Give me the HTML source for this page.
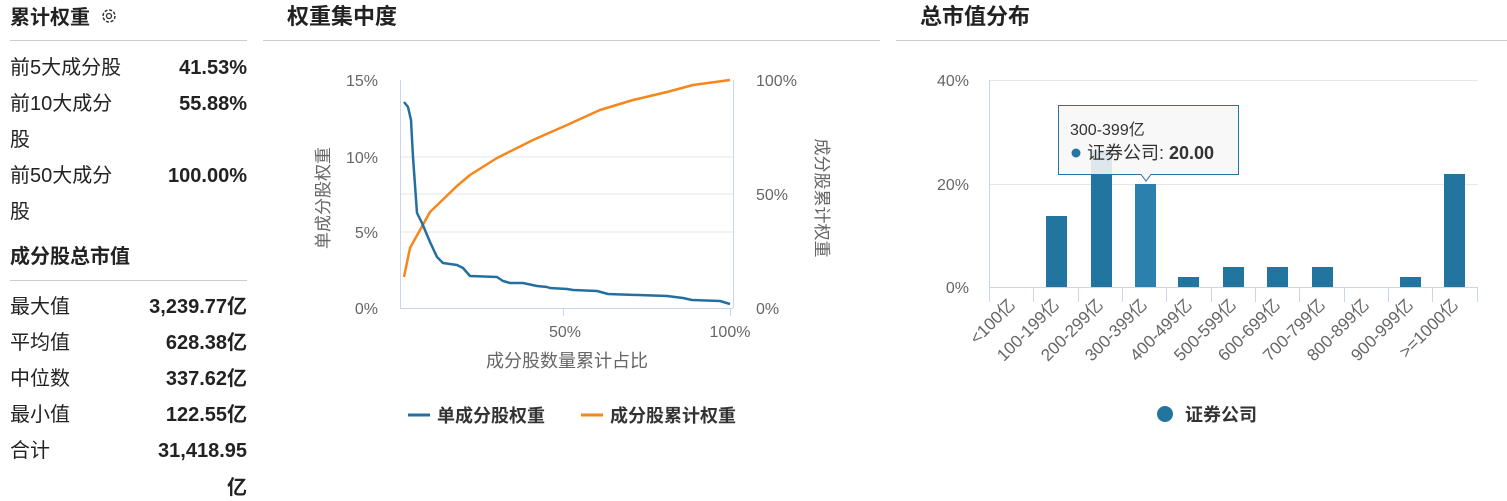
<!DOCTYPE html>
<html><head><meta charset="utf-8"><style>
body{margin:0;background:#fff;width:1507px;height:501px;overflow:hidden}
svg{display:block;font-family:"Liberation Sans","Noto Sans CJK SC",sans-serif}
</style></head><body>
<svg width="1507" height="501" xmlns="http://www.w3.org/2000/svg">
<!-- Left panel -->
<g fill="#222" font-size="20">
<text x="10" y="24" font-size="20" font-weight="bold">累计权重</text>
<circle cx="109" cy="16" r="6" fill="none" stroke="#333" stroke-width="1.5" stroke-dasharray="3 1.7"/><circle cx="109" cy="16" r="2.5" fill="none" stroke="#333" stroke-width="1.3"/>
<line x1="10" y1="40.5" x2="247" y2="40.5" stroke="#ccc"/>
<text x="10" y="74">前5大成分股</text><text x="247" y="74" text-anchor="end" font-weight="bold">41.53%</text>
<text x="10" y="110">前10大成分</text><text x="247" y="110" text-anchor="end" font-weight="bold">55.88%</text>
<text x="10" y="146">股</text>
<text x="10" y="182">前50大成分</text><text x="247" y="182" text-anchor="end" font-weight="bold">100.00%</text>
<text x="10" y="218">股</text>
<text x="10" y="263" font-weight="bold">成分股总市值</text>
<line x1="10" y1="280.5" x2="247" y2="280.5" stroke="#ccc"/>
<text x="10" y="313">最大值</text><text x="247" y="313" text-anchor="end" font-weight="bold">3,239.77亿</text>
<text x="10" y="349">平均值</text><text x="247" y="349" text-anchor="end" font-weight="bold">628.38亿</text>
<text x="10" y="385">中位数</text><text x="247" y="385" text-anchor="end" font-weight="bold">337.62亿</text>
<text x="10" y="421">最小值</text><text x="247" y="421" text-anchor="end" font-weight="bold">122.55亿</text>
<text x="10" y="457">合计</text><text x="247" y="457" text-anchor="end" font-weight="bold">31,418.95</text>
<text x="247" y="494" text-anchor="end" font-weight="bold">亿</text>
</g>
<!-- Middle panel -->
<text x="287" y="24" font-size="22" font-weight="bold" fill="#222">权重集中度</text>
<line x1="263" y1="40.5" x2="880" y2="40.5" stroke="#ccc"/>
<g stroke="#e6e6e6"><line x1="400" y1="157" x2="733" y2="157"/><line x1="400" y1="194" x2="733" y2="194"/><line x1="400" y1="232" x2="733" y2="232"/></g>
<g stroke="#ccd6eb"><line x1="400.5" y1="80" x2="400.5" y2="308"/><line x1="733.5" y1="80" x2="733.5" y2="308"/><line x1="400" y1="308.5" x2="733" y2="308.5"/><line x1="563.5" y1="308" x2="563.5" y2="316"/><line x1="730.5" y1="308" x2="730.5" y2="316"/></g>
<g fill="#666" font-size="16">
<text x="378" y="86" text-anchor="end">15%</text><text x="378" y="163" text-anchor="end">10%</text><text x="378" y="238" text-anchor="end">5%</text><text x="378" y="314" text-anchor="end">0%</text>
<text x="756" y="86">100%</text><text x="756" y="200">50%</text><text x="756" y="314">0%</text>
<text x="565" y="337" text-anchor="middle">50%</text><text x="730" y="337" text-anchor="middle">100%</text>
<text x="567" y="367" text-anchor="middle" font-size="18">成分股数量累计占比</text>
<text transform="translate(329,198) rotate(-90)" text-anchor="middle" font-size="17">单成分股权重</text>
<text transform="translate(816,198) rotate(90)" text-anchor="middle" font-size="17">成分股累计权重</text>
</g>
<polyline fill="none" stroke="#f7861c" stroke-width="2.5" stroke-linejoin="round" points="404,277 410,248 430,212 457,186 470,175 497,158 533,140 567,125 600,110 633,100 667,92 693,85 730,80"/>
<polyline fill="none" stroke="#2370a0" stroke-width="2.5" stroke-linejoin="round" points="404,102 408,107 411,120 413,157 417,213 422,223 430,242 437,257 443,263 457,265 463,268 470,276 497,277 503,281 510,283 523,283 537,286 547,287 550,288 567,289 573,290 597,291 608,294 667,296 683,298 692,300 720,301 730,304"/>
<g font-size="18" font-weight="bold" fill="#333">
<line x1="408" y1="415" x2="430" y2="415" stroke="#2370a0" stroke-width="3"/><text x="437" y="422">单成分股权重</text>
<line x1="581" y1="415" x2="603" y2="415" stroke="#f7861c" stroke-width="3"/><text x="610" y="422">成分股累计权重</text>
</g>
<!-- Right panel -->
<text x="920" y="24" font-size="22" font-weight="bold" fill="#222">总市值分布</text>
<line x1="896" y1="40.5" x2="1507" y2="40.5" stroke="#ccc"/>
<g stroke="#e6e6e6"><line x1="989" y1="80.5" x2="1478" y2="80.5"/><line x1="989" y1="184.5" x2="1478" y2="184.5"/></g>
<g stroke="#ccd6eb"><line x1="989.5" y1="80" x2="989.5" y2="302"/><line x1="989" y1="287.5" x2="1478" y2="287.5"/>
<line x1="1033.5" y1="287" x2="1033.5" y2="302"/><line x1="1078.5" y1="287" x2="1078.5" y2="302"/><line x1="1122.5" y1="287" x2="1122.5" y2="302"/><line x1="1166.5" y1="287" x2="1166.5" y2="302"/><line x1="1211.5" y1="287" x2="1211.5" y2="302"/><line x1="1255.5" y1="287" x2="1255.5" y2="302"/><line x1="1299.5" y1="287" x2="1299.5" y2="302"/><line x1="1344.5" y1="287" x2="1344.5" y2="302"/><line x1="1388.5" y1="287" x2="1388.5" y2="302"/><line x1="1432.5" y1="287" x2="1432.5" y2="302"/><line x1="1477.5" y1="287" x2="1477.5" y2="302"/></g>
<g fill="#666" font-size="16"><text x="969" y="86" text-anchor="end">40%</text><text x="969" y="190" text-anchor="end">20%</text><text x="969" y="293" text-anchor="end">0%</text></g>
<g fill="#22759f">
<rect x="1046" y="216" width="21" height="71"/><rect x="1091" y="150" width="21" height="137"/><rect x="1135" y="184" width="21" height="103" fill="#2c80ad"/>
<rect x="1178" y="277" width="21" height="10"/><rect x="1223" y="267" width="21" height="20"/><rect x="1267" y="267" width="21" height="20"/><rect x="1312" y="267" width="21" height="20"/>
<rect x="1400" y="277" width="21" height="10"/><rect x="1444" y="174" width="21" height="113"/>
</g>
<g fill="#666" font-size="17" text-anchor="end">
<text transform="translate(1016,306) rotate(-45)">&lt;100亿</text>
<text transform="translate(1060,306) rotate(-45)">100-199亿</text>
<text transform="translate(1104,306) rotate(-45)">200-299亿</text>
<text transform="translate(1148,306) rotate(-45)">300-399亿</text>
<text transform="translate(1193,306) rotate(-45)">400-499亿</text>
<text transform="translate(1237,306) rotate(-45)">500-599亿</text>
<text transform="translate(1281,306) rotate(-45)">600-699亿</text>
<text transform="translate(1326,306) rotate(-45)">700-799亿</text>
<text transform="translate(1370,306) rotate(-45)">800-899亿</text>
<text transform="translate(1414,306) rotate(-45)">900-999亿</text>
<text transform="translate(1459,306) rotate(-45)">&gt;=1000亿</text>
</g>
<!-- tooltip -->
<path d="M1058.5,105.5 H1238.5 V174.5 H1151 L1146,181 L1141,174.5 H1058.5 Z" fill="#f7f7f7" fill-opacity="0.88" stroke="#2474a5" stroke-width="1"/>
<text x="1070" y="135" font-size="16" fill="#333">300-399亿</text>
<circle cx="1076" cy="153" r="4.5" fill="#2474a5"/>
<text x="1087" y="159" font-size="18" fill="#333">证券公司: <tspan font-weight="bold">20.00</tspan></text>
<circle cx="1165" cy="414" r="8" fill="#22759f"/>
<text x="1185" y="421" font-size="18" font-weight="bold" fill="#333">证券公司</text>
</svg>
</body></html>
